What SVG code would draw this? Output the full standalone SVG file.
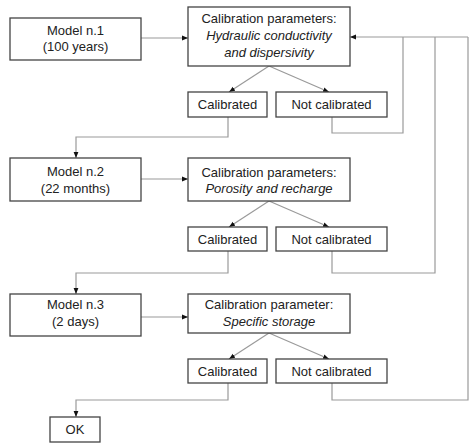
<svg xmlns="http://www.w3.org/2000/svg" width="474" height="447" viewBox="0 0 474 447">
<defs>
<style>
.box{fill:#fff;stroke:#444;stroke-width:1.3}
.t{font-family:"Liberation Sans",Arial,sans-serif;font-size:13px;fill:#222;text-anchor:middle}
.i{font-style:italic}
.c{fill:none;stroke:#9a9a9a;stroke-width:1.2}
</style>
<marker id="ah" viewBox="0 0 10 10" refX="10" refY="5" markerWidth="6" markerHeight="6" orient="auto" markerUnits="userSpaceOnUse"><path d="M0,1 L10,5 L0,9 z" fill="#111"/></marker>
</defs>
<rect width="474" height="447" fill="#fff"/>
<g id="connectors">
<path class="c" d="M141,38 H188" marker-end="url(#ah)"/>
<path class="c" d="M269,66 L229,92" marker-end="url(#ah)"/>
<path class="c" d="M269,66 L329,92" marker-end="url(#ah)"/>
<path class="c" d="M332,117 V133 H403 V37"/>
<path class="c" d="M468,37 H350" marker-end="url(#ah)"/>
<path class="c" d="M435,37 V273 H332 V251"/>
<path class="c" d="M468,37 V400 H332 V383"/>
<path class="c" d="M228,117 V137 H76 V158" marker-end="url(#ah)"/>
<path class="c" d="M141,179 H188" marker-end="url(#ah)"/>
<path class="c" d="M269,201 L229,227" marker-end="url(#ah)"/>
<path class="c" d="M269,201 L329,227" marker-end="url(#ah)"/>
<path class="c" d="M228,251 V273 H76 V294" marker-end="url(#ah)"/>
<path class="c" d="M141,317 H188" marker-end="url(#ah)"/>
<path class="c" d="M269,333 L229,359" marker-end="url(#ah)"/>
<path class="c" d="M269,333 L329,359" marker-end="url(#ah)"/>
<path class="c" d="M228,383 V400 H76 V417" marker-end="url(#ah)"/>
</g>
<g id="model1"><rect class="box" x="10" y="18" width="131" height="42"/><text class="t" x="75.5" y="35">Model n.1</text><text class="t" x="75.5" y="51">(100 years)</text></g>
<g id="calib1"><rect class="box" x="188" y="7" width="162" height="59"/><text class="t" x="269" y="23">Calibration parameters:</text><text class="t i" x="269" y="40">Hydraulic conductivity</text><text class="t i" x="269" y="57">and dispersivity</text></g>
<g id="cal1"><rect class="box" x="188" y="92" width="79" height="25"/><text class="t" x="227.5" y="109">Calibrated</text></g>
<g id="notcal1"><rect class="box" x="276" y="92" width="111" height="25"/><text class="t" x="331.5" y="109">Not calibrated</text></g>
<g id="model2"><rect class="box" x="10" y="158" width="131" height="43"/><text class="t" x="75.5" y="176">Model n.2</text><text class="t" x="75.5" y="193">(22 months)</text></g>
<g id="calib2"><rect class="box" x="188" y="158" width="162" height="43"/><text class="t" x="269" y="177">Calibration parameters:</text><text class="t i" x="269" y="193">Porosity and recharge</text></g>
<g id="cal2"><rect class="box" x="188" y="227" width="79" height="24"/><text class="t" x="227.5" y="244">Calibrated</text></g>
<g id="notcal2"><rect class="box" x="276" y="227" width="111" height="24"/><text class="t" x="331.5" y="244">Not calibrated</text></g>
<g id="model3"><rect class="box" x="10" y="294" width="131" height="42"/><text class="t" x="75.5" y="309">Model n.3</text><text class="t" x="75.5" y="326">(2 days)</text></g>
<g id="calib3"><rect class="box" x="188" y="294" width="162" height="39"/><text class="t" x="269" y="309">Calibration parameter:</text><text class="t i" x="269" y="326">Specific storage</text></g>
<g id="cal3"><rect class="box" x="188" y="359" width="79" height="24"/><text class="t" x="227.5" y="376">Calibrated</text></g>
<g id="notcal3"><rect class="box" x="276" y="359" width="111" height="24"/><text class="t" x="331.5" y="376">Not calibrated</text></g>
<g id="ok"><rect class="box" x="50" y="417" width="50" height="25"/><text class="t" x="75" y="434">OK</text></g>
</svg>
